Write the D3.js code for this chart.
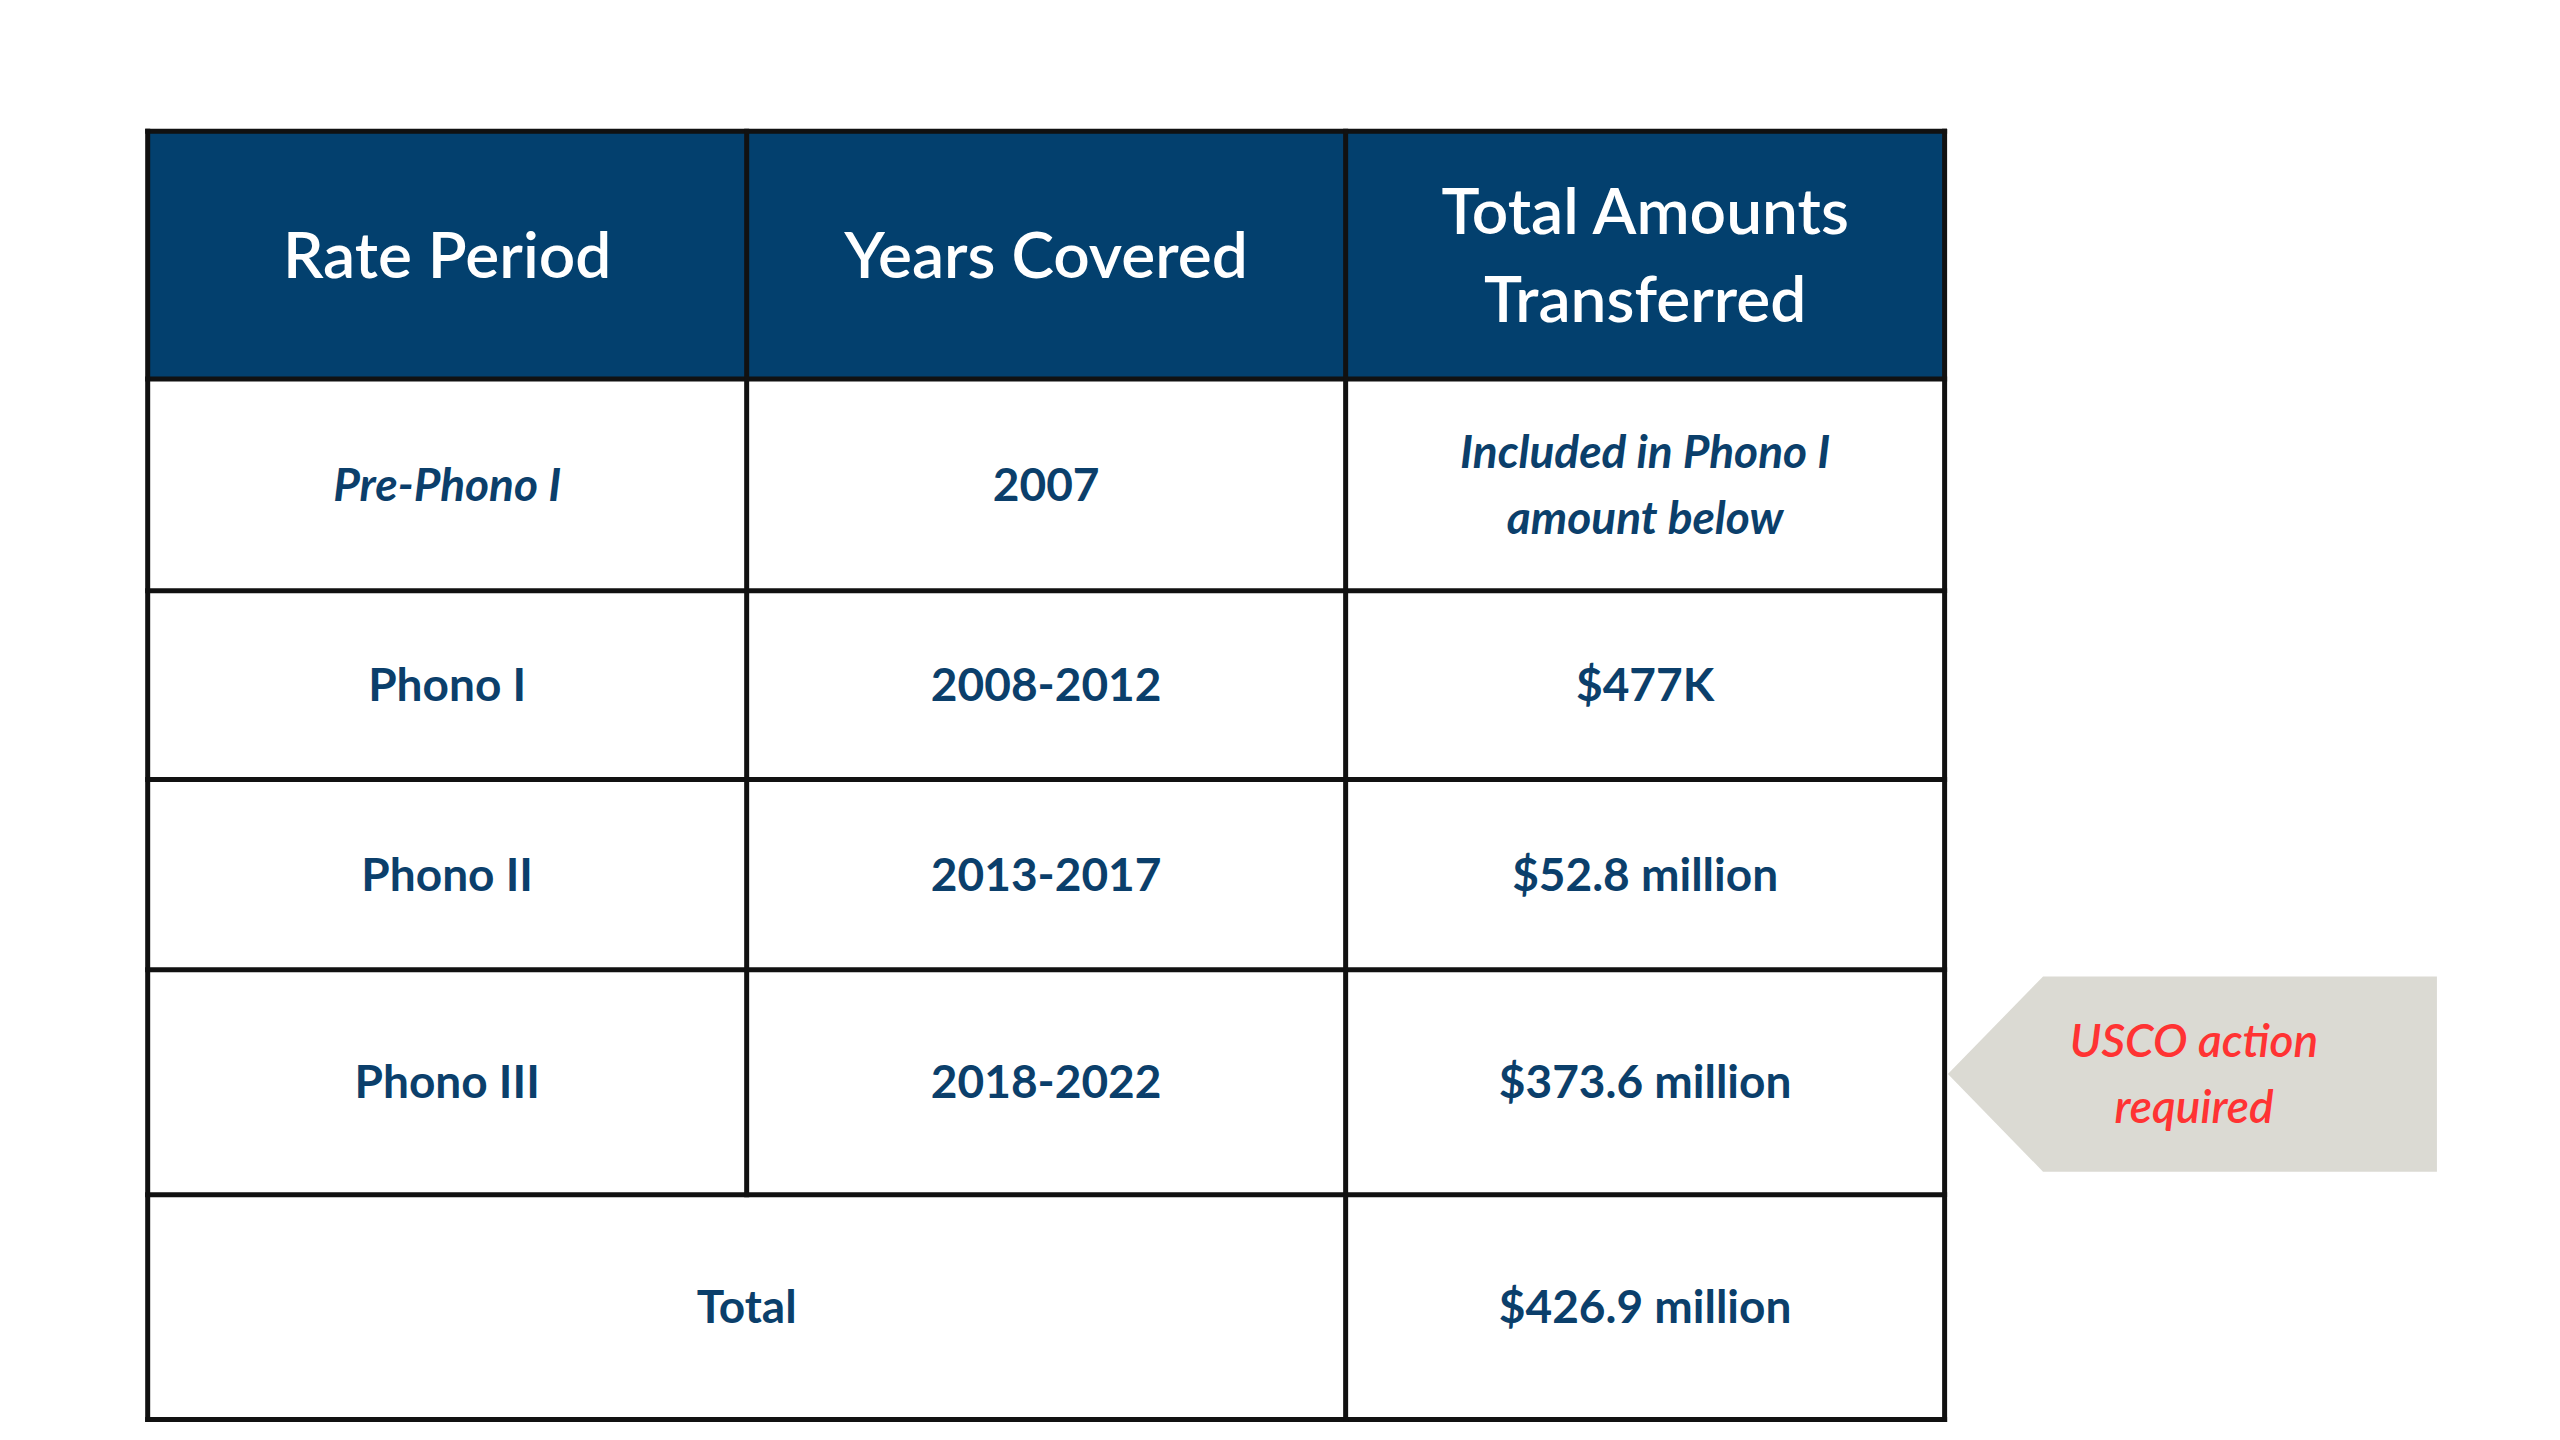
<!DOCTYPE html><html><head><meta charset="utf-8"><script src="https://cdn.jsdelivr.net/npm/d3@7"></script>
<style>body{margin:0;background:#fff}</style></head><body><svg id="c" width="2560" height="1440"></svg>
<script>
const headers=[["Rate Period"],["Years Covered"],["Total Amounts","Transferred"]];
const ratePeriods=["Pre-Phono I","Phono I","Phono II","Phono III"];
const yearsCovered=["2007","2008-2012","2013-2017","2018-2022"];
const amounts=[["Included in Phono I","amount below"],["$477K"],["$52.8 million"],["$373.6 million"]];
const totalLabel="Total", totalAmount="$426.9 million";
const calloutLines=["USCO action","required"];

const s=2560/1560;
const rowEdges=[80,231,360,475,591,728,865].map(v=>v*s);
const x=d3.scaleLinear().domain([0,3]).range([90*s,1185*s]);
const navy="#03406E", txt="#0B3F6B";
const svg=d3.select("#c");
const font="Lato, 'Open Sans', sans-serif";
// header bg
svg.append("rect").attr("x",x(0)).attr("y",rowEdges[0]).attr("width",x(3)-x(0)).attr("height",rowEdges[1]-rowEdges[0]).attr("fill",navy);
function cellText(lines,cx,y0,y1,opt){
  const lh=opt.lh, cy=(y0+y1)/2, n=lines.length;
  lines.forEach((l,i)=>svg.append("text").attr("x",cx).attr("y",cy+(i-(n-1)/2)*lh).attr("dy","0.35em")
   .attr("text-anchor","middle").attr("font-family",font).attr("font-weight",opt.w||700)
   .attr("font-style",opt.italic?"italic":"normal").attr("font-size",opt.size).attr("fill",opt.fill).text(l));
}
headers.forEach((h,i)=>cellText(h,(x(i)+x(i+1))/2,rowEdges[0],rowEdges[1],{size:64,lh:88,fill:"#fff",w:600}));
ratePeriods.forEach((r,i)=>{
  const y0=rowEdges[i+1],y1=rowEdges[i+2];
  cellText([r],(x(0)+x(1))/2,y0,y1,{size:46,lh:66,fill:txt,italic:i===0});
  cellText([yearsCovered[i]],(x(1)+x(2))/2,y0,y1,{size:46,lh:66,fill:txt});
  cellText(amounts[i],(x(2)+x(3))/2,y0,y1,{size:46,lh:66,fill:txt,italic:i===0});
});
cellText([totalLabel],(x(0)+x(2))/2,rowEdges[5],rowEdges[6],{size:46,lh:66,fill:txt});
cellText([totalAmount],(x(2)+x(3))/2,rowEdges[5],rowEdges[6],{size:46,lh:66,fill:txt});
// grid lines
const g=svg.append("g").attr("stroke","#111").attr("stroke-width",5).attr("stroke-linecap","square");
rowEdges.forEach(y=>g.append("line").attr("x1",x(0)).attr("x2",x(3)).attr("y1",y).attr("y2",y));
[0,2,3].forEach(c=>g.append("line").attr("x1",x(c)).attr("x2",x(c)).attr("y1",rowEdges[0]).attr("y2",rowEdges[6]));
g.append("line").attr("x1",x(1)).attr("x2",x(1)).attr("y1",rowEdges[0]).attr("y2",rowEdges[5]);
// callout
const ty=rowEdges[4], by=rowEdges[5];
const a0=1187*s,a1=1245*s,a2=1485*s,at=595*s,ab=714*s;
svg.append("path").attr("d",`M${a0},${(at+ab)/2}L${a1},${at}L${a2},${at}L${a2},${ab}L${a1},${ab}Z`).attr("fill","#DBDAD3");
cellText(calloutLines,1337*s,at,ab,{size:46,lh:66,fill:"#FF3333",italic:true,w:600});
</script></body></html>
